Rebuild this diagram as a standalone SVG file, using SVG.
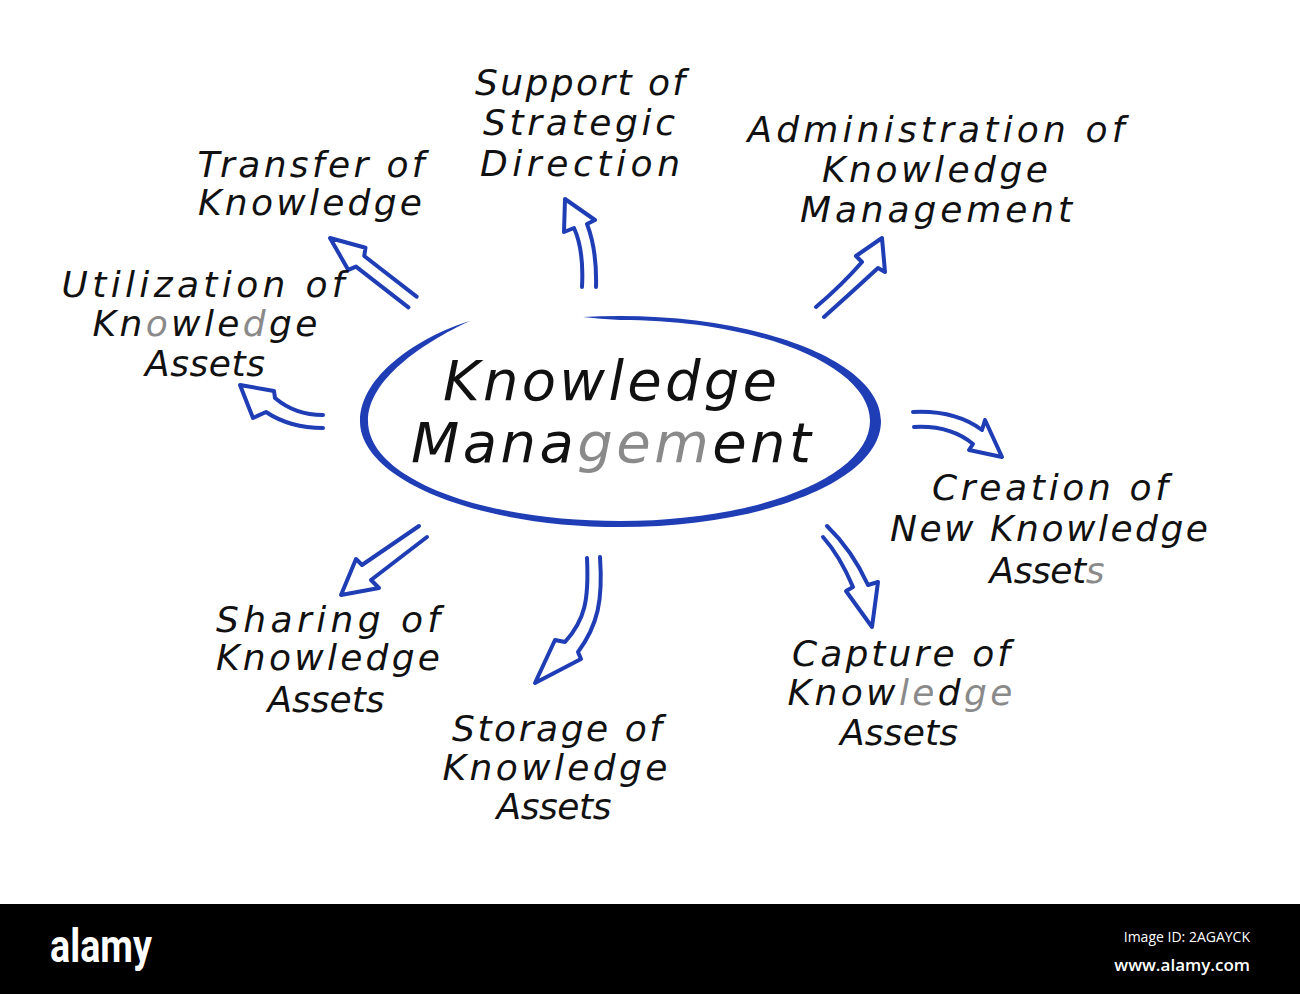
<svg xmlns="http://www.w3.org/2000/svg" width="1300" height="994" viewBox="0 0 1300 994">
<style>
.lbl{font-family:"DejaVu Sans","Noto Sans",sans-serif;font-style:italic;font-weight:normal;font-size:36px;fill:#111;text-anchor:middle}
.big{font-size:56px}
.gr{fill:#8a8a8a}
.arr{fill:none;stroke:#1f3db5;stroke-width:4;stroke-linejoin:round;stroke-linecap:round}
</style>
<rect width="1300" height="994" fill="#fff"/>
<g id="n-center">
<path fill="#1f3db5" d="M470,321 C418,337 360,376 360,421 C360,480 478,527 620,527 C763,527 881,481 881,421 C881,362 762,316 620,316 Q600,316 583,317 Q600,319 620,320 C760,320 870,366 870,421 C870,476 760,521 620,521 C480,521 368,478 368,421 C368,380 422,343 470,321 Z"/>
<text class="lbl big" x="610" y="400" textLength="334">Knowledge</text>
<text class="lbl big" x="611" y="462" textLength="400">Mana<tspan class="gr">gem</tspan>ent</text>
</g>
<g id="connectors">
<path class="arr" d="M416.6,296.7 L364.2,256 L365.5,247.7 L330,238 L348.3,269.9 L356,266.6 L408.4,307.3"/>
<path class="arr" d="M582,287 Q584,250 574,228 L564,232 L565,199 L595,220 L587,224 Q597,250 596,287"/>
<path class="arr" d="M816,307 Q842,285 862,262 L856,256 L882,238 L885,272 L878,268 Q852,292 824,317"/>
<path class="arr" d="M913,412 Q955,410 982,430 L985,420 L1002,457 L969,450 L973,444 Q950,425 914,427"/>
<path class="arr" d="M827,526 Q852,550 868,585 L878,582 L872,627 L846,591 L853,587 Q840,556 823,537"/>
<path class="arr" d="M587,558 C589,600 585,620 565,642 L555,640 L535,683 L581,659 L578,652 C598,625 603,600 600,557"/>
<path class="arr" d="M419,526 L362,565 L356,559 L341,595 L379,588 L371,580 L427,537"/>
<path class="arr" d="M323,415 Q295,415 275,398 L274,391 L240,385 L253,418 L266,412 Q290,428 323,428"/>
</g>
<g id="n-transfer">
<text class="lbl" x="311" y="177" textLength="227">Transfer of</text>
<text class="lbl" x="310" y="215" textLength="224">Knowledge</text>
</g>
<g id="n-support">
<text class="lbl" x="580" y="95" textLength="210">Support of</text>
<text class="lbl" x="579" y="135" textLength="192">Strategic</text>
<text class="lbl" x="580" y="176" textLength="200">Direction</text>
</g>
<g id="n-admin">
<text class="lbl" x="936" y="142" textLength="377">Administration of</text>
<text class="lbl" x="935" y="182" textLength="226">Knowledge</text>
<text class="lbl" x="936" y="222" textLength="272">Management</text>
</g>
<g id="n-utilization">
<text class="lbl" x="203" y="297" textLength="283">Utilization of</text>
<text class="lbl" x="205" y="336" textLength="225">Kn<tspan class="gr">o</tspan>wle<tspan class="gr">d</tspan>ge</text>
<text class="lbl" x="205" y="376" textLength="120">Assets</text>
</g>
<g id="n-creation">
<text class="lbl" x="1050" y="500" textLength="236">Creation of</text>
<text class="lbl" x="1049" y="541" textLength="318">New Knowledge</text>
<text class="lbl" x="1047" y="583" textLength="115">Asset<tspan class="gr">s</tspan></text>
</g>
<g id="n-capture">
<text class="lbl" x="901" y="666" textLength="218">Capture of</text>
<text class="lbl" x="900" y="705" textLength="225">Know<tspan class="gr">le</tspan>d<tspan class="gr">ge</tspan></text>
<text class="lbl" x="899" y="745" textLength="118">Assets</text>
</g>
<g id="n-sharing">
<text class="lbl" x="328" y="632" textLength="224">Sharing of</text>
<text class="lbl" x="328" y="670" textLength="224">Knowledge</text>
<text class="lbl" x="326" y="712" textLength="117">Assets</text>
</g>
<g id="n-storage">
<text class="lbl" x="557" y="741" textLength="210">Storage of</text>
<text class="lbl" x="555" y="780" textLength="225">Knowledge</text>
<text class="lbl" x="554" y="819" textLength="115">Assets</text>
</g>
<g id="watermark-bar">
<rect x="0" y="904" width="1300" height="90" fill="#000"/>
<text x="50" y="962" font-family="Roboto,'Liberation Sans',sans-serif" font-weight="700" font-size="46" fill="#fff" textLength="102" lengthAdjust="spacingAndGlyphs">alamy</text>
<text x="1250" y="942" font-family="'Open Sans','Liberation Sans',sans-serif" font-size="14" fill="#fff" text-anchor="end">Image ID: 2AGAYCK</text>
<text x="1250" y="971" font-family="'Open Sans','Liberation Sans',sans-serif" font-weight="600" font-size="17" fill="#fff" text-anchor="end">www.alamy.com</text>
</g>
</svg>
